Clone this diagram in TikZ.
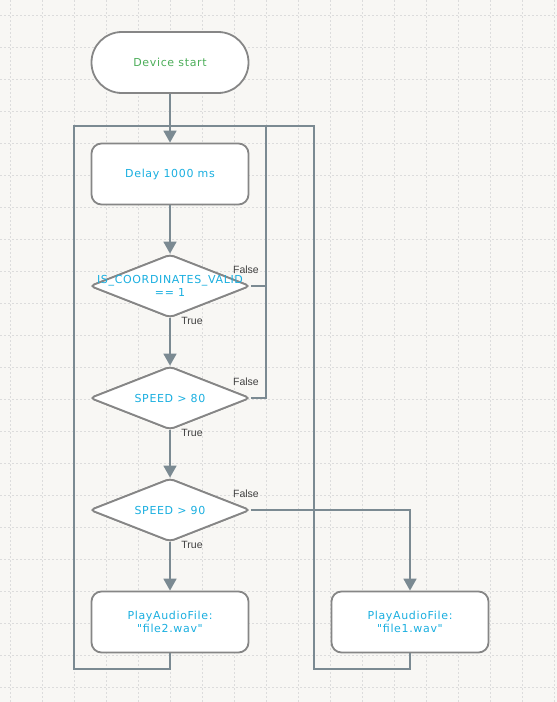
\documentclass[tikz,border=0pt]{standalone}
\usepackage{fontspec}
\setmainfont{DejaVu Sans}
\newfontfamily\lblfont{Liberation Sans}
\newfontfamily\nodefont[LetterSpace=6]{DejaVu Sans}
\usetikzlibrary{arrows.meta,shapes.geometric}
\definecolor{bg}{HTML}{F8F7F4}
\definecolor{gridc}{HTML}{DCDCDC}
\definecolor{edgec}{HTML}{7B8A92}
\definecolor{borderc}{HTML}{868686}
\definecolor{txtblue}{HTML}{1AAFE0}
\definecolor{txtgreen}{HTML}{4DAE5A}
\definecolor{lblc}{HTML}{404040}
\tikzset{
  nodetext/.style={font=\nodefont\fontsize{11}{13.5}\selectfont, text=txtblue, align=center},
  box/.style={nodetext, draw=borderc, line width=1.8pt, fill=white, rounded corners=10pt,
    minimum width=157pt, minimum height=61pt, inner sep=0pt},
  terminal/.style={box, rounded corners=30.4pt, text=txtgreen},
  decision/.style={shape=diamond, draw=borderc, line width=1.8pt, fill=white, rounded corners=4pt,
    minimum width=160pt, minimum height=63pt, inner sep=0pt},
  dtext/.style={nodetext, inner sep=0pt},
  edge/.style={draw=edgec, line width=1.8pt},
  arr/.style={edge, -{Triangle[width=13pt,length=12pt]}},
  lbl/.style={font=\lblfont\fontsize{10.5}{12}\selectfont, text=lblc, inner sep=0pt},
  gridline/.style={draw=gridc, line width=0.9pt, dash pattern=on 2pt off 2pt}
}
\begin{document}
\begin{tikzpicture}[x=1pt,y=-1pt]
\fill[bg] (0,0) rectangle (557,702);
\useasboundingbox (0,0) rectangle (557,702);
\foreach \x in {10,42,...,554} \draw[gridline] (\x,0) -- (\x,702);
\foreach \y in {15,47,...,700} \draw[gridline] (0,\y) -- (557,\y);

% nodes
\node[terminal] (start) at (170,62.5) {Device start};
\node[box] (delay) at (170,174) {Delay 1000 ms};
\node[decision] (d1) at (170,286) {};
\node[decision] (d2) at (170,398) {};
\node[decision] (d3) at (170,510) {};
\node[box] (f2) at (170,622) {PlayAudioFile:\\"file2.wav"};
\node[box] (f1) at (410,622) {PlayAudioFile:\\"file1.wav"};

% bend points
\coordinate (top) at (170,126);
\coordinate (r1) at (266,126);
\coordinate (l1) at (74,669);
\coordinate (l2) at (314,669);

% connectors
\draw[arr] (start.south) -- (delay.north);
\draw[arr] (delay.south) -- (d1.north);
\draw[arr] (d1.south) -- (d2.north);
\draw[arr] (d2.south) -- (d3.north);
\draw[arr] (d3.south) -- (f2.north);
\draw[arr] (d3.east) -| (f1.north);
\draw[edge] (d1.east) -| (r1) -- (top);
\draw[edge] (d2.east) -| (r1);
\draw[edge] (f2.south) |- (l1) |- (top);
\draw[edge] (f1.south) |- (l2) |- (top);

% redraw decisions on top of connector ends
\node[decision] at (d1) {};
\node[decision] at (d2) {};
\node[decision] at (d3) {};

% decision texts
\node[dtext] (d1t) at (d1) {IS\_COORDINATES\_VALID\\== 1};
\node[dtext] (d2t) at (d2) {SPEED > 80};
\node[dtext] (d3t) at (d3) {SPEED > 90};

% labels
\node[lbl] (fl1) at (246,270) {False};
\node[lbl] (tl1) at (192,321) {True};
\node[lbl] (fl2) at (246,382) {False};
\node[lbl] (tl2) at (192,433) {True};
\node[lbl] (fl3) at (246,494) {False};
\node[lbl] (tl3) at (192,545) {True};
\end{tikzpicture}
\end{document}
